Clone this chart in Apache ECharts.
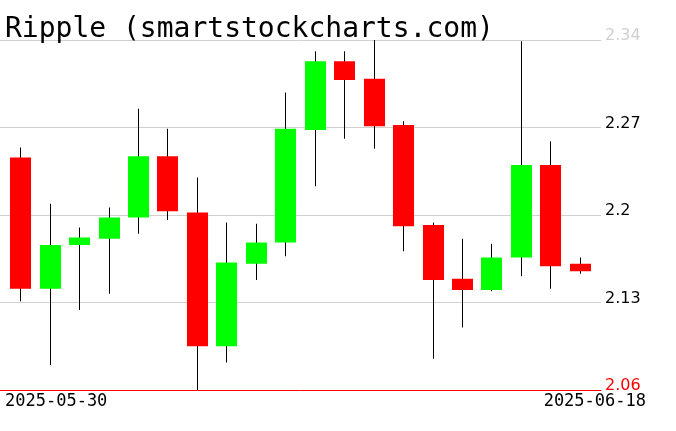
<!DOCTYPE html>
<html>
<head>
<meta charset="utf-8">
<script src="https://cdn.jsdelivr.net/npm/echarts@6/dist/echarts.min.js"></script>
<style>
html,body{margin:0;padding:0;background:#fff;}
#main{width:676px;height:431px;}
</style>
</head>
<body>
<div id="main"></div>
<script>
// daily candles
var dates = ['2025-05-30','2025-05-31','2025-06-01','2025-06-02','2025-06-03','2025-06-04','2025-06-05',
             '2025-06-06','2025-06-07','2025-06-08','2025-06-09','2025-06-10','2025-06-11','2025-06-12',
             '2025-06-13','2025-06-14','2025-06-15','2025-06-16','2025-06-17','2025-06-18'];
var openVals  = [2.246,2.141,2.176,2.181,2.198,2.247,2.202,2.095,2.161,2.178,2.268,2.323,2.309,2.272,2.192,2.149,2.140,2.166,2.240,2.161];
var closeVals = [2.141,2.176,2.182,2.198,2.247,2.203,2.095,2.162,2.178,2.269,2.323,2.308,2.271,2.191,2.148,2.140,2.166,2.240,2.159,2.155];
var lowVals   = [2.131,2.080,2.124,2.137,2.185,2.196,2.060,2.082,2.148,2.167,2.223,2.261,2.253,2.171,2.085,2.110,2.139,2.151,2.141,2.153];
var highVals  = [2.254,2.209,2.190,2.206,2.285,2.269,2.230,2.194,2.193,2.298,2.331,2.331,2.340,2.275,2.194,2.181,2.177,2.339,2.259,2.166];
var priceTicks = [2.06, 2.13, 2.2, 2.27, 2.34];
var title = 'Ripple (smartstockcharts.com)';

var myChart = echarts.init(document.getElementById('main'));

var candleData = dates.map(function(d, i){
	return [i, openVals[i], closeVals[i], lowVals[i], highVals[i]];
});

function tickColor(v){
	var r = +(+v).toFixed(2);
	if (r === priceTicks[0]) return '#ff0000';
	if (r === priceTicks[priceTicks.length-1]) return '#d0d0d0';
	return '#000';
}

function renderCandle(params, api){
	var o = api.value(1), c = api.value(2), l = api.value(3), h = api.value(4);
	var pH = api.coord([api.value(0), h]);
	var pL = api.coord([api.value(0), l]);
	var pO = api.coord([api.value(0), o]);
	var pC = api.coord([api.value(0), c]);
	var w = api.size([1, 0])[0] * 0.715;
	var x = Math.floor(pH[0]) + 0.5;
	return {
		type: 'group',
		children: [{
			type: 'line',
			shape: {x1: x, y1: pH[1], x2: x, y2: pL[1]},
			style: {stroke: '#000', lineWidth: 1}
		}, {
			type: 'rect',
			shape: {x: x - w/2, y: Math.min(pO[1], pC[1]), width: w, height: Math.max(1, Math.abs(pO[1] - pC[1]))},
			style: {fill: c >= o ? '#00ff00' : '#ff0000'}
		}]
	};
}

var option = {
	animation: false,
	backgroundColor: '#fff',
	title: {
		text: title,
		left: 0,
		top: 11,
		textStyle: {fontFamily: 'DejaVu Sans Mono', fontSize: 28, fontWeight: 'normal', color: '#000'}
	},
	grid: [
		{left: 0, right: 75, top: 40, bottom: 41, containLabel: false},
		{left: 6, right: 81, top: 40, bottom: 41, containLabel: false}
	],
	xAxis: [
		{gridIndex: 0, type: 'category', data: dates, boundaryGap: true,
		 axisLine: {show: true, lineStyle: {color: '#ff0000', width: 1}},
		 axisTick: {show: false}, axisLabel: {show: false}, splitLine: {show: false}},
		{gridIndex: 1, type: 'category', data: dates, boundaryGap: true,
		 axisLine: {show: false}, axisTick: {show: false}, axisLabel: {show: false}, splitLine: {show: false}}
	],
	yAxis: [
		{gridIndex: 0, type: 'value', position: 'right',
		 min: priceTicks[0], max: priceTicks[priceTicks.length-1], interval: 0.07,
		 axisLine: {show: false}, axisTick: {show: false},
		 splitLine: {show: true, lineStyle: {color: '#d0d0d0', width: 1}},
		 axisLabel: {
			show: true, margin: 4, fontFamily: 'DejaVu Sans', fontSize: 16,
			verticalAlign: 'bottom', lineHeight: 8,
			color: tickColor,
			formatter: function(v){ return String(+(+v).toFixed(2)); }
		 }},
		{gridIndex: 1, type: 'value',
		 min: priceTicks[0], max: priceTicks[priceTicks.length-1],
		 axisLine: {show: false}, axisTick: {show: false}, axisLabel: {show: false}, splitLine: {show: false}}
	],
	graphic: [
		{type: 'text', left: 5, top: 393, style: {text: dates[0], font: '17px "DejaVu Sans Mono"', fill: '#000'}},
		{type: 'text', right: 30, top: 393, style: {text: dates[dates.length-1], font: '17px "DejaVu Sans Mono"', fill: '#000'}}
	],
	series: [{
		type: 'custom',
		xAxisIndex: 1,
		yAxisIndex: 1,
		renderItem: renderCandle,
		encode: {x: 0, y: [1, 2, 3, 4]},
		data: candleData
	}]
};

myChart.setOption(option);
</script>
</body>
</html>
